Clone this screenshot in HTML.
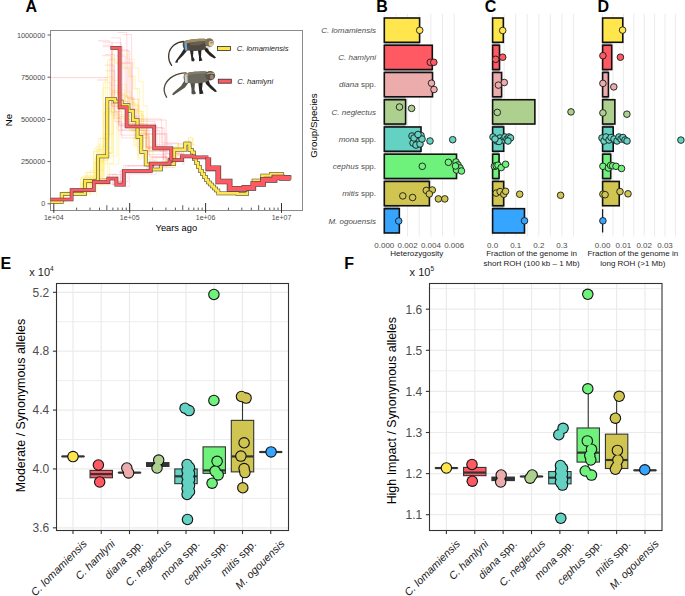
<!DOCTYPE html>
<html><head><meta charset="utf-8"><style>
html,body{margin:0;padding:0;background:#fff;}
body{width:685px;height:596px;overflow:hidden;}
svg{display:block;font-family:"Liberation Sans",sans-serif;}
</style></head><body>
<svg width="685" height="596" viewBox="0 0 685 596" font-family="Liberation Sans, sans-serif">
<rect width="685" height="596" fill="#fff"/>
<text x="25.50" y="12.00" font-size="16" text-anchor="start" fill="#000" font-weight="bold" >A</text>
<rect x="50.5" y="30.5" width="252" height="180" fill="none" stroke="#8a8a8a" stroke-width="1"/>
<line x1="47.5" x2="50.5" y1="203.80" y2="203.80" stroke="#333" stroke-width="0.8"/>
<text x="45.30" y="206.40" font-size="7.3" text-anchor="end" fill="#4d4d4d" >0</text>
<line x1="47.5" x2="50.5" y1="161.60" y2="161.60" stroke="#333" stroke-width="0.8"/>
<text x="45.30" y="164.20" font-size="7.3" text-anchor="end" fill="#4d4d4d" >250000</text>
<line x1="47.5" x2="50.5" y1="119.40" y2="119.40" stroke="#333" stroke-width="0.8"/>
<text x="45.30" y="122.00" font-size="7.3" text-anchor="end" fill="#4d4d4d" >500000</text>
<line x1="47.5" x2="50.5" y1="77.20" y2="77.20" stroke="#333" stroke-width="0.8"/>
<text x="45.30" y="79.80" font-size="7.3" text-anchor="end" fill="#4d4d4d" >750000</text>
<line x1="47.5" x2="50.5" y1="35.00" y2="35.00" stroke="#333" stroke-width="0.8"/>
<text x="45.30" y="37.60" font-size="7.3" text-anchor="end" fill="#4d4d4d" >1000000</text>
<line x1="53.80" x2="53.80" y1="203" y2="212.8" stroke="#333" stroke-width="1"/>
<line x1="76.65" x2="76.65" y1="207.6" y2="210" stroke="#333" stroke-width="0.8"/>
<line x1="90.01" x2="90.01" y1="207.6" y2="210" stroke="#333" stroke-width="0.8"/>
<line x1="99.50" x2="99.50" y1="207.6" y2="210" stroke="#333" stroke-width="0.8"/>
<line x1="106.85" x2="106.85" y1="205.2" y2="210" stroke="#333" stroke-width="0.8"/>
<line x1="112.86" x2="112.86" y1="207.6" y2="210" stroke="#333" stroke-width="0.8"/>
<line x1="117.94" x2="117.94" y1="207.6" y2="210" stroke="#333" stroke-width="0.8"/>
<line x1="122.34" x2="122.34" y1="207.6" y2="210" stroke="#333" stroke-width="0.8"/>
<line x1="126.23" x2="126.23" y1="207.6" y2="210" stroke="#333" stroke-width="0.8"/>
<line x1="129.70" x2="129.70" y1="203" y2="212.8" stroke="#333" stroke-width="1"/>
<line x1="152.55" x2="152.55" y1="207.6" y2="210" stroke="#333" stroke-width="0.8"/>
<line x1="165.91" x2="165.91" y1="207.6" y2="210" stroke="#333" stroke-width="0.8"/>
<line x1="175.40" x2="175.40" y1="207.6" y2="210" stroke="#333" stroke-width="0.8"/>
<line x1="182.75" x2="182.75" y1="205.2" y2="210" stroke="#333" stroke-width="0.8"/>
<line x1="188.76" x2="188.76" y1="207.6" y2="210" stroke="#333" stroke-width="0.8"/>
<line x1="193.84" x2="193.84" y1="207.6" y2="210" stroke="#333" stroke-width="0.8"/>
<line x1="198.24" x2="198.24" y1="207.6" y2="210" stroke="#333" stroke-width="0.8"/>
<line x1="202.13" x2="202.13" y1="207.6" y2="210" stroke="#333" stroke-width="0.8"/>
<line x1="205.60" x2="205.60" y1="203" y2="212.8" stroke="#333" stroke-width="1"/>
<line x1="228.45" x2="228.45" y1="207.6" y2="210" stroke="#333" stroke-width="0.8"/>
<line x1="241.81" x2="241.81" y1="207.6" y2="210" stroke="#333" stroke-width="0.8"/>
<line x1="251.30" x2="251.30" y1="207.6" y2="210" stroke="#333" stroke-width="0.8"/>
<line x1="258.65" x2="258.65" y1="205.2" y2="210" stroke="#333" stroke-width="0.8"/>
<line x1="264.66" x2="264.66" y1="207.6" y2="210" stroke="#333" stroke-width="0.8"/>
<line x1="269.74" x2="269.74" y1="207.6" y2="210" stroke="#333" stroke-width="0.8"/>
<line x1="274.14" x2="274.14" y1="207.6" y2="210" stroke="#333" stroke-width="0.8"/>
<line x1="278.03" x2="278.03" y1="207.6" y2="210" stroke="#333" stroke-width="0.8"/>
<line x1="281.50" x2="281.50" y1="203" y2="212.8" stroke="#333" stroke-width="1"/>
<text x="53.80" y="220.20" font-size="7" text-anchor="middle" fill="#4d4d4d" >1e+04</text>
<text x="129.70" y="220.20" font-size="7" text-anchor="middle" fill="#4d4d4d" >1e+05</text>
<text x="205.60" y="220.20" font-size="7" text-anchor="middle" fill="#4d4d4d" >1e+06</text>
<text x="281.50" y="220.20" font-size="7" text-anchor="middle" fill="#4d4d4d" >1e+07</text>
<text x="176.30" y="230.70" font-size="9.3" text-anchor="middle" fill="#000" >Years ago</text>
<text transform="translate(12.2,120) rotate(-90)" font-size="9.6" text-anchor="middle" fill="#000">Ne</text>
<g fill="none" stroke-width="0.9" stroke-linejoin="miter">
<path d="M85.5,194.9 L85.5,183.2 L98.5,183.2 L98.5,160.8 L107.8,160.8 L107.8,108.7 L115.3,108.7 L115.3,111.2 L122.1,111.2 L122.1,114.4 L128.9,114.4 L128.9,120.0 L133.5,120.0 L133.5,128.1 L138.0,128.1 L138.0,143.1 L141.8,143.1 L141.8,156.9 L146.2,156.9" stroke="#FFE64C" stroke-opacity="0.4"/>
<path d="M91.1,195.5 L91.1,184.4 L104.1,184.4 L104.1,163.4 L113.4,163.4 L113.4,114.5 L120.9,114.5 L120.9,116.8 L127.7,116.8 L127.7,119.9 L134.5,119.9 L134.5,125.1 L139.1,125.1 L139.1,132.7 L143.6,132.7 L143.6,146.8 L147.4,146.8 L147.4,159.8 L151.8,159.8" stroke="#FFE64C" stroke-opacity="0.4"/>
<path d="M89.1,193.4 L89.1,179.7 L102.1,179.7 L102.1,153.6 L111.4,153.6 L111.4,92.9 L118.9,92.9 L118.9,95.8 L125.7,95.8 L125.7,99.6 L132.5,99.6 L132.5,106.0 L137.1,106.0 L137.1,115.5 L141.6,115.5 L141.6,133.0 L145.4,133.0 L145.4,149.1 L149.8,149.1" stroke="#FFE64C" stroke-opacity="0.4"/>
<path d="M81.0,192.4 L81.0,177.4 L94.0,177.4 L94.0,148.9 L103.3,148.9 L103.3,82.5 L110.8,82.5 L110.8,85.6 L117.6,85.6 L117.6,89.8 L124.4,89.8 L124.4,96.8 L129.0,96.8 L129.0,107.2 L133.5,107.2 L133.5,126.4 L137.3,126.4 L137.3,143.9 L141.7,143.9" stroke="#FFE64C" stroke-opacity="0.4"/>
<path d="M80.6,193.0 L80.6,178.6 L93.6,178.6 L93.6,151.4 L102.9,151.4 L102.9,87.9 L110.4,87.9 L110.4,90.9 L117.2,90.9 L117.2,94.9 L124.0,94.9 L124.0,101.6 L128.6,101.6 L128.6,111.5 L133.1,111.5 L133.1,129.8 L136.9,129.8 L136.9,146.6 L141.3,146.6" stroke="#FFE64C" stroke-opacity="0.4"/>
<path d="M81.2,195.4 L81.2,184.1 L94.2,184.1 L94.2,162.8 L103.5,162.8 L103.5,113.2 L111.0,113.2 L111.0,115.5 L117.8,115.5 L117.8,118.6 L124.6,118.6 L124.6,123.9 L129.2,123.9 L129.2,131.6 L133.7,131.6 L133.7,146.0 L137.5,146.0 L137.5,159.1 L141.9,159.1" stroke="#FFE64C" stroke-opacity="0.4"/>
<path d="M87.2,190.2 L87.2,172.3 L100.2,172.3 L100.2,138.2 L109.5,138.2 L109.5,59.0 L117.0,59.0 L117.0,62.7 L123.8,62.7 L123.8,67.6 L130.6,67.6 L130.6,76.0 L135.2,76.0 L135.2,88.5 L139.7,88.5 L139.7,111.3 L143.5,111.3 L143.5,132.3 L147.9,132.3" stroke="#FFE64C" stroke-opacity="0.4"/>
<path d="M82.1,194.4 L82.1,182.0 L95.1,182.0 L95.1,158.4 L104.4,158.4 L104.4,103.4 L111.9,103.4 L111.9,106.0 L118.7,106.0 L118.7,109.4 L125.5,109.4 L125.5,115.3 L130.1,115.3 L130.1,123.9 L134.6,123.9 L134.6,139.7 L138.4,139.7 L138.4,154.3 L142.8,154.3" stroke="#FFE64C" stroke-opacity="0.4"/>
<path d="M90.7,189.4 L90.7,170.3 L103.7,170.3 L103.7,134.2 L113.0,134.2 L113.0,50.1 L120.5,50.1 L120.5,54.0 L127.3,54.0 L127.3,59.3 L134.1,59.3 L134.1,68.2 L138.7,68.2 L138.7,81.4 L143.2,81.4 L143.2,105.7 L147.0,105.7 L147.0,127.9 L151.4,127.9" stroke="#FFE64C" stroke-opacity="0.4"/>
<path d="M89.8,193.2 L89.8,179.2 L102.8,179.2 L102.8,152.6 L112.1,152.6 L112.1,90.6 L119.6,90.6 L119.6,93.5 L126.4,93.5 L126.4,97.4 L133.2,97.4 L133.2,104.0 L137.8,104.0 L137.8,113.7 L142.3,113.7 L142.3,131.6 L146.1,131.6 L146.1,148.0 L150.5,148.0" stroke="#FFE64C" stroke-opacity="0.4"/>
<path d="M96.6,195.7 L96.6,184.9 L109.6,184.9 L109.6,164.3 L118.9,164.3 L118.9,116.4 L126.4,116.4 L126.4,118.7 L133.2,118.7 L133.2,121.7 L140.0,121.7 L140.0,126.7 L144.6,126.7 L144.6,134.2 L149.1,134.2 L149.1,148.0 L152.9,148.0 L152.9,160.7 L157.3,160.7" stroke="#FFE64C" stroke-opacity="0.4"/>
<path d="M94.6,194.0 L94.6,180.9 L107.6,180.9 L107.6,156.2 L116.9,156.2 L116.9,98.5 L124.4,98.5 L124.4,101.2 L131.2,101.2 L131.2,104.8 L138.0,104.8 L138.0,110.9 L142.6,110.9 L142.6,120.0 L147.1,120.0 L147.1,136.6 L150.9,136.6 L150.9,151.9 L155.3,151.9" stroke="#FFE64C" stroke-opacity="0.4"/>
<path d="M82.5,195.2 L82.5,183.7 L95.5,183.7 L95.5,161.9 L104.8,161.9 L104.8,111.2 L112.3,111.2 L112.3,113.5 L119.1,113.5 L119.1,116.7 L125.9,116.7 L125.9,122.1 L130.5,122.1 L130.5,130.1 L135.0,130.1 L135.0,144.7 L138.8,144.7 L138.8,158.1 L143.2,158.1" stroke="#FFE64C" stroke-opacity="0.4"/>
<path d="M85.2,190.3 L85.2,172.5 L98.2,172.5 L98.2,138.6 L107.5,138.6 L107.5,59.7 L115.0,59.7 L115.0,63.4 L121.8,63.4 L121.8,68.4 L128.6,68.4 L128.6,76.7 L133.2,76.7 L133.2,89.1 L137.7,89.1 L137.7,111.8 L141.5,111.8 L141.5,132.7 L145.9,132.7" stroke="#FFE64C" stroke-opacity="0.4"/>
<path d="M83.1,191.9 L83.1,176.2 L96.1,176.2 L96.1,146.4 L105.4,146.4 L105.4,77.0 L112.9,77.0 L112.9,80.3 L119.7,80.3 L119.7,84.6 L126.5,84.6 L126.5,92.0 L131.1,92.0 L131.1,102.8 L135.6,102.8 L135.6,122.9 L139.4,122.9 L139.4,141.2 L143.8,141.2" stroke="#FFE64C" stroke-opacity="0.4"/>
<path d="M90.9,193.4 L90.9,179.6 L103.9,179.6 L103.9,153.4 L113.2,153.4 L113.2,92.4 L120.7,92.4 L120.7,95.3 L127.5,95.3 L127.5,99.1 L134.3,99.1 L134.3,105.6 L138.9,105.6 L138.9,115.1 L143.4,115.1 L143.4,132.7 L147.2,132.7 L147.2,148.8 L151.6,148.8" stroke="#FFE64C" stroke-opacity="0.4"/>
<path d="M51.9,202.1 L63.1,202.1 L63.1,194.7 L86.4,194.7 L86.4,182.7 L99.4,182.7 L99.4,159.9 L108.7,159.9" stroke="#FFE64C" stroke-opacity="0.3"/>
<path d="M48.0,202.0 L59.2,202.0 L59.2,194.2 L82.5,194.2 L82.5,181.4 L95.5,181.4 L95.5,157.1 L104.8,157.1" stroke="#FFE64C" stroke-opacity="0.3"/>
<path d="M52.9,201.9 L64.1,201.9 L64.1,193.3 L87.4,193.3 L87.4,179.4 L100.4,179.4 L100.4,152.9 L109.7,152.9" stroke="#FFE64C" stroke-opacity="0.3"/>
<path d="M50.0,201.7 L61.2,201.7 L61.2,192.7 L84.5,192.7 L84.5,177.9 L97.5,177.9 L97.5,149.9 L106.8,149.9" stroke="#FFE64C" stroke-opacity="0.3"/>
<path d="M51.1,202.0 L62.3,202.0 L62.3,193.8 L85.6,193.8 L85.6,180.5 L98.6,180.5 L98.6,155.4 L107.9,155.4" stroke="#FFE64C" stroke-opacity="0.3"/>
<path d="M53.9,201.6 L65.1,201.6 L65.1,192.2 L88.4,192.2 L88.4,176.9 L101.4,176.9 L101.4,147.7 L110.7,147.7" stroke="#FFE64C" stroke-opacity="0.3"/>
<path d="M49.5,201.7 L60.7,201.7 L60.7,192.7 L84.0,192.7 L84.0,178.0 L97.0,178.0 L97.0,150.1 L106.3,150.1" stroke="#FFE64C" stroke-opacity="0.3"/>
<path d="M51.7,201.5 L62.9,201.5 L62.9,191.5 L86.2,191.5 L86.2,175.2 L99.2,175.2 L99.2,144.4 L108.5,144.4" stroke="#FFE64C" stroke-opacity="0.3"/>
<path d="M53.3,202.0 L64.5,202.0 L64.5,193.8 L87.8,193.8 L87.8,180.7 L100.8,180.7 L100.8,155.6 L110.1,155.6" stroke="#FFE64C" stroke-opacity="0.3"/>
<path d="M55.3,202.1 L66.5,202.1 L66.5,194.5 L89.8,194.5 L89.8,182.2 L102.8,182.2 L102.8,158.8 L112.1,158.8" stroke="#FFE64C" stroke-opacity="0.3"/>
<path d="M111.9,42.8 L121.1,42.8 L121.1,104.3 L128.1,104.3 L128.1,124.0 L155.7,124.0 L155.7,146.6 L172.8,146.6 L172.8,159.1" stroke="#FF5A64" stroke-opacity="0.24"/>
<path d="M105.2,54.5 L114.4,54.5 L114.4,111.6 L121.4,111.6 L121.4,129.8 L149.0,129.8 L149.0,150.8 L166.1,150.8 L166.1,162.4" stroke="#FF5A64" stroke-opacity="0.24"/>
<path d="M102.4,46.7 L111.6,46.7 L111.6,106.7 L118.6,106.7 L118.6,125.9 L146.2,125.9 L146.2,148.0 L163.3,148.0 L163.3,160.2" stroke="#FF5A64" stroke-opacity="0.24"/>
<path d="M120.5,50.9 L129.7,50.9 L129.7,109.3 L136.7,109.3 L136.7,128.0 L164.3,128.0 L164.3,149.5 L181.4,149.5 L181.4,161.4" stroke="#FF5A64" stroke-opacity="0.24"/>
<path d="M123.3,62.2 L132.5,62.2 L132.5,116.3 L139.5,116.3 L139.5,133.6 L167.1,133.6 L167.1,153.5 L184.2,153.5 L184.2,164.5" stroke="#FF5A64" stroke-opacity="0.24"/>
<path d="M118.8,49.9 L128.0,49.9 L128.0,108.7 L135.0,108.7 L135.0,127.6 L162.6,127.6 L162.6,149.2 L179.7,149.2 L179.7,161.1" stroke="#FF5A64" stroke-opacity="0.24"/>
<path d="M115.9,56.0 L125.1,56.0 L125.1,112.4 L132.1,112.4 L132.1,130.6 L159.7,130.6 L159.7,151.3 L176.8,151.3 L176.8,162.8" stroke="#FF5A64" stroke-opacity="0.24"/>
<path d="M122.4,34.6 L131.6,34.6 L131.6,99.2 L138.6,99.2 L138.6,120.0 L166.2,120.0 L166.2,143.7 L183.3,143.7 L183.3,156.8" stroke="#FF5A64" stroke-opacity="0.24"/>
<path d="M113.3,46.9 L122.5,46.9 L122.5,106.8 L129.5,106.8 L129.5,126.0 L157.1,126.0 L157.1,148.1 L174.2,148.1 L174.2,160.2" stroke="#FF5A64" stroke-opacity="0.24"/>
<path d="M102.9,45.2 L112.1,45.2 L112.1,105.8 L119.1,105.8 L119.1,125.2 L146.7,125.2 L146.7,147.5 L163.8,147.5 L163.8,159.8" stroke="#FF5A64" stroke-opacity="0.24"/>
<path d="M117.6,32.5 L126.8,32.5 L126.8,97.9 L133.8,97.9 L133.8,118.9 L161.4,118.9 L161.4,142.9 L178.5,142.9 L178.5,156.2" stroke="#FF5A64" stroke-opacity="0.24"/>
<path d="M121.9,63.5 L131.1,63.5 L131.1,117.1 L138.1,117.1 L138.1,134.3 L165.7,134.3 L165.7,154.0 L182.8,154.0 L182.8,164.9" stroke="#FF5A64" stroke-opacity="0.24"/>
<path d="M111.0,46.7 L120.2,46.7 L120.2,106.7 L127.2,106.7 L127.2,125.9 L154.8,125.9 L154.8,148.0 L171.9,148.0 L171.9,160.2" stroke="#FF5A64" stroke-opacity="0.24"/>
<path d="M102.0,55.7 L111.2,55.7 L111.2,112.3 L118.2,112.3 L118.2,130.4 L145.8,130.4 L145.8,151.2 L162.9,151.2 L162.9,162.7" stroke="#FF5A64" stroke-opacity="0.24"/>
<path d="M105.6,70.8 L114.8,70.8 L114.8,121.6 L121.8,121.6 L121.8,137.9 L149.4,137.9 L149.4,156.6 L166.5,156.6 L166.5,166.9" stroke="#FF5A64" stroke-opacity="0.24"/>
<path d="M102.9,42.3 L112.1,42.3 L112.1,104.0 L119.1,104.0 L119.1,123.8 L146.7,123.8 L146.7,146.4 L163.8,146.4 L163.8,159.0" stroke="#FF5A64" stroke-opacity="0.24"/>
<path d="M104.6,65.1 L113.8,65.1 L113.8,118.1 L120.8,118.1 L120.8,135.1 L148.4,135.1 L148.4,154.6 L165.5,154.6 L165.5,165.3" stroke="#FF5A64" stroke-opacity="0.24"/>
<path d="M111.2,37.8 L120.4,37.8 L120.4,101.2 L127.4,101.2 L127.4,121.5 L155.0,121.5 L155.0,144.8 L172.1,144.8 L172.1,157.7" stroke="#FF5A64" stroke-opacity="0.24"/>
<path d="M90.6,181.9 L105.2,181.9 L105.2,178.3 L113.2,178.3 L113.2,184.6 L120.6,184.6 L120.6,170.8 L147.5,170.8 L147.5,163.4 L166.3,163.4" stroke="#FF5A64" stroke-opacity="0.18"/>
<path d="M95.3,178.6 L109.9,178.6 L109.9,174.4 L117.9,174.4 L117.9,181.6 L125.3,181.6 L125.3,165.7 L152.2,165.7 L152.2,157.3 L171.0,157.3" stroke="#FF5A64" stroke-opacity="0.18"/>
<path d="M98.0,178.8 L112.6,178.8 L112.6,174.6 L120.6,174.6 L120.6,181.8 L128.0,181.8 L128.0,166.0 L154.9,166.0 L154.9,157.6 L173.7,157.6" stroke="#FF5A64" stroke-opacity="0.18"/>
<path d="M92.6,182.2 L107.2,182.2 L107.2,178.6 L115.2,178.6 L115.2,184.8 L122.6,184.8 L122.6,171.2 L149.5,171.2 L149.5,163.9 L168.3,163.9" stroke="#FF5A64" stroke-opacity="0.18"/>
<path d="M93.4,178.6 L108.0,178.6 L108.0,174.4 L116.0,174.4 L116.0,181.6 L123.4,181.6 L123.4,165.7 L150.3,165.7 L150.3,157.3 L169.1,157.3" stroke="#FF5A64" stroke-opacity="0.18"/>
<path d="M99.4,184.2 L114.0,184.2 L114.0,181.0 L122.0,181.0 L122.0,186.6 L129.4,186.6 L129.4,174.2 L156.3,174.2 L156.3,167.6 L175.1,167.6" stroke="#FF5A64" stroke-opacity="0.18"/>
<path d="M91.6,183.6 L106.2,183.6 L106.2,180.3 L114.2,180.3 L114.2,186.0 L121.6,186.0 L121.6,173.3 L148.5,173.3 L148.5,166.5 L167.3,166.5" stroke="#FF5A64" stroke-opacity="0.18"/>
<path d="M92.1,181.7 L106.7,181.7 L106.7,178.0 L114.7,178.0 L114.7,184.3 L122.1,184.3 L122.1,170.3 L149.0,170.3 L149.0,162.9 L167.8,162.9" stroke="#FF5A64" stroke-opacity="0.18"/>
<path d="M95.7,183.4 L110.3,183.4 L110.3,180.0 L118.3,180.0 L118.3,185.8 L125.7,185.8 L125.7,172.9 L152.6,172.9 L152.6,166.0 L171.4,166.0" stroke="#FF5A64" stroke-opacity="0.18"/>
<path d="M89.8,182.2 L104.4,182.2 L104.4,178.6 L112.4,178.6 L112.4,184.8 L119.8,184.8 L119.8,171.1 L146.7,171.1 L146.7,163.8 L165.5,163.8" stroke="#FF5A64" stroke-opacity="0.18"/>
<path d="M160.0,162.3 L173.2,162.3 L173.2,147.4 L184.3,147.4 L184.3,141.0 L188.5,141.0 L188.5,147.8 L191.0,147.8" stroke="#FFE64C" stroke-opacity="0.3"/>
<path d="M164.6,161.1 L177.8,161.1 L177.8,145.8 L188.9,145.8 L188.9,139.1 L193.1,139.1 L193.1,146.1 L195.6,146.1" stroke="#FFE64C" stroke-opacity="0.3"/>
<path d="M161.1,161.8 L174.3,161.8 L174.3,146.7 L185.4,146.7 L185.4,140.2 L189.6,140.2 L189.6,147.1 L192.1,147.1" stroke="#FFE64C" stroke-opacity="0.3"/>
<path d="M162.4,167.5 L175.6,167.5 L175.6,154.4 L186.7,154.4 L186.7,148.7 L190.9,148.7 L190.9,154.7 L193.4,154.7" stroke="#FFE64C" stroke-opacity="0.3"/>
<path d="M164.2,160.2 L177.4,160.2 L177.4,144.5 L188.5,144.5 L188.5,137.8 L192.7,137.8 L192.7,144.9 L195.2,144.9" stroke="#FFE64C" stroke-opacity="0.3"/>
<path d="M164.0,160.0 L177.2,160.0 L177.2,144.3 L188.3,144.3 L188.3,137.5 L192.5,137.5 L192.5,144.6 L195.0,144.6" stroke="#FFE64C" stroke-opacity="0.3"/>
<path d="M50.5,77.6 L108,77.6 M98,40.9 L110,40.9 M97,80 L108,80" stroke="#FF5A64" stroke-opacity="0.3"/>
</g>
<path d="M50.5,202.0 L61.7,202.0 L61.7,194.0 L85.0,194.0 L85.0,181.0 L98.0,181.0 L98.0,156.3 L107.3,156.3 L107.3,98.8 L114.8,98.8 L114.8,101.5 L121.6,101.5 L121.6,105.1 L128.4,105.1 L128.4,111.2 L133.0,111.2 L133.0,120.2 L137.5,120.2 L137.5,136.8 L141.3,136.8 L141.3,152.0 L145.7,152.0 L145.7,164.5 L152.0,164.5 L152.0,169.5 L161.0,169.5 L161.0,164.0 L174.2,164.0 L174.2,149.7 L185.3,149.7 L185.3,143.5 L189.5,143.5 L189.5,150.0 L192.0,150.0 L192.0,152.5 L194.0,152.5 L194.0,159.0 L196.0,159.0 L196.0,163.0 L198.0,163.0 L198.0,167.0 L200.0,167.0 L200.0,171.0 L202.0,171.0 L202.0,174.0 L204.0,174.0 L204.0,177.0 L206.0,177.0 L206.0,180.0 L208.0,180.0 L208.0,182.5 L210.0,182.5 L210.0,184.5 L212.0,184.5 L212.0,186.5 L214.0,186.5 L214.0,188.5 L216.0,188.5 L216.0,190.5 L218.3,190.5 L218.3,193.3 L237.5,193.3 L237.5,194.0 L247.0,194.0 L247.0,188.0 L253.6,188.0 L253.6,180.5 L262.3,180.5 L262.3,175.5 L271.0,175.5 L271.0,174.0 L282.2,174.0 L282.2,177.0 L289.5,177.0 L289.5,179.5" fill="none" stroke="#3a3a3a" stroke-width="3.7" stroke-linejoin="miter" stroke-linecap="butt"/>
<path d="M50.5,202.0 L61.7,202.0 L61.7,194.0 L85.0,194.0 L85.0,181.0 L98.0,181.0 L98.0,156.3 L107.3,156.3 L107.3,98.8 L114.8,98.8 L114.8,101.5 L121.6,101.5 L121.6,105.1 L128.4,105.1 L128.4,111.2 L133.0,111.2 L133.0,120.2 L137.5,120.2 L137.5,136.8 L141.3,136.8 L141.3,152.0 L145.7,152.0 L145.7,164.5 L152.0,164.5 L152.0,169.5 L161.0,169.5 L161.0,164.0 L174.2,164.0 L174.2,149.7 L185.3,149.7 L185.3,143.5 L189.5,143.5 L189.5,150.0 L192.0,150.0 L192.0,152.5 L194.0,152.5 L194.0,159.0 L196.0,159.0 L196.0,163.0 L198.0,163.0 L198.0,167.0 L200.0,167.0 L200.0,171.0 L202.0,171.0 L202.0,174.0 L204.0,174.0 L204.0,177.0 L206.0,177.0 L206.0,180.0 L208.0,180.0 L208.0,182.5 L210.0,182.5 L210.0,184.5 L212.0,184.5 L212.0,186.5 L214.0,186.5 L214.0,188.5 L216.0,188.5 L216.0,190.5 L218.3,190.5 L218.3,193.3 L237.5,193.3 L237.5,194.0 L247.0,194.0 L247.0,188.0 L253.6,188.0 L253.6,180.5 L262.3,180.5 L262.3,175.5 L271.0,175.5 L271.0,174.0 L282.2,174.0 L282.2,177.0 L289.5,177.0 L289.5,179.5" fill="none" stroke="#FFE64C" stroke-width="2.7" stroke-linejoin="miter" stroke-linecap="butt"/>
<path d="M50.5,199.5 L71.6,199.5 L71.6,190.1 L93.8,190.1 L93.8,182.1 L108.4,182.1 L108.4,178.5 L116.4,178.5 L116.4,184.7 L123.8,184.7 L123.8,171.0 L150.7,171.0 L150.7,163.7 L169.5,163.7 L169.5,160.2 L182.0,160.2 L182.0,156.3 L194.0,156.3 L194.0,157.4 L208.3,157.4" fill="none" stroke="#3a3a3a" stroke-width="3.7" stroke-linejoin="miter" stroke-linecap="butt"/>
<path d="M50.5,199.5 L71.6,199.5 L71.6,190.1 L93.8,190.1 L93.8,182.1 L108.4,182.1 L108.4,178.5 L116.4,178.5 L116.4,184.7 L123.8,184.7 L123.8,171.0 L150.7,171.0 L150.7,163.7 L169.5,163.7 L169.5,160.2 L182.0,160.2 L182.0,156.3 L194.0,156.3 L194.0,157.4 L208.3,157.4" fill="none" stroke="#FF5A64" stroke-width="2.7" stroke-linejoin="miter" stroke-linecap="butt"/>
<path d="M110.4,47.8 L119.6,47.8 L119.6,107.4 L126.6,107.4 L126.6,126.5 L154.2,126.5 L154.2,148.4 L171.3,148.4 L171.3,160.5" fill="none" stroke="#3a3a3a" stroke-width="3.7" stroke-linejoin="miter" stroke-linecap="butt"/>
<path d="M110.4,47.8 L119.6,47.8 L119.6,107.4 L126.6,107.4 L126.6,126.5 L154.2,126.5 L154.2,148.4 L171.3,148.4 L171.3,160.5" fill="none" stroke="#FF5A64" stroke-width="2.7" stroke-linejoin="miter" stroke-linecap="butt"/>
<path d="M208.3,157.4 L208.3,168.3 L218.3,168.3 L218.3,181.5 L229.6,181.5 L229.6,188.8 L244.5,188.8 L244.5,187.8 L253.3,187.8 L253.3,184.0 L263.0,184.0 L263.0,179.8 L274.5,179.8 L274.5,177.5 L282.0,177.5 L282.0,178.0 L290.5,178.0" fill="none" stroke="#3a3a3a" stroke-width="5.7" stroke-linejoin="miter" stroke-linecap="butt"/>
<path d="M208.3,157.4 L208.3,168.3 L218.3,168.3 L218.3,181.5 L229.6,181.5 L229.6,188.8 L244.5,188.8 L244.5,187.8 L253.3,187.8 L253.3,184.0 L263.0,184.0 L263.0,179.8 L274.5,179.8 L274.5,177.5 L282.0,177.5 L282.0,178.0 L290.5,178.0" fill="none" stroke="#FF5A64" stroke-width="4.4" stroke-linejoin="miter" stroke-linecap="butt"/>
<rect x="217.5" y="46.5" width="13" height="4" fill="#FFE64C" stroke="#2b2b2b" stroke-width="0.8"/>
<rect x="218.3" y="79.2" width="13" height="4" fill="#FF5A64" stroke="#2b2b2b" stroke-width="0.8"/>
<text x="236.70" y="51.40" font-size="7.6" text-anchor="start" fill="#1a1a1a" font-style="italic" >C. lomamiensis</text>
<text x="237.30" y="84.00" font-size="7.6" text-anchor="start" fill="#1a1a1a" font-style="italic" >C. hamlyni</text>
<path d="M183.5,41.5 C176,42 170,47 168.8,54 C168.2,58.5 169.5,62.5 171.6,65.4" fill="none" stroke="#3b3127" stroke-width="1.3" stroke-linecap="round"/>
<path d="M185,47 L188.5,49 L183.5,55 L178,60.5 L177.6,62.8 L175,62.6 L176.2,60.2 L181,53.5 Z" fill="#2c2a27"/>
<path d="M189.5,48 L193.5,49.5 L193,56.5 L194.8,60 L193.5,61.4 L191.5,61 L191,56 Z" fill="#2a2826"/>
<path d="M197.5,48 L201.5,48 L201,57 L202.5,60.6 L199,61.3 L199,57 Z" fill="#262422"/>
<path d="M203,46 L207,46 L209,51 L214,55.5 L216,57.5 L214.5,58.5 L210,56 L205,51 Z" fill="#262422"/>
<path d="M183,42 C186,39.5 195,39 203,38.8 C207,38.6 209,41 209,44 C209,48 204,50.5 198,50.8 C192,51.2 186,51 184,49 C182.5,47 182.5,44 183,42 Z" fill="#4e4a42"/>
<path d="M184,41.5 C189,39.3 197,38.8 204,38.8 C206,39 207,40 207.5,41.5 C200,41 192,42 185,44 Z" fill="#a08c66"/>
<path d="M190,42.5 C195,41.5 201,41.5 205,42 C203,45 196,46 190,45 Z" fill="#6d6452" opacity="0.8"/>
<path d="M184.3,43 L186.6,42.6 L187.4,50.5 L185.3,50.8 Z" fill="#6fa6d6"/>
<ellipse cx="209.3" cy="42.6" rx="4.5" ry="4.4" fill="#7c7058"/>
<ellipse cx="211.2" cy="43.6" rx="2.5" ry="2.9" fill="#d6c4a0"/>
<ellipse cx="211.6" cy="42.6" rx="1.3" ry="0.9" fill="#a08870"/>
<path d="M205.5,46.2 C207.5,45.8 209.5,46.8 210,48.3 C207.5,48.8 206,48.2 205.5,46.2 Z" fill="#e8e0d0"/>
<path d="M186,72.8 C176,73 168,78 165,85 C163.3,89.5 164.5,94 166.6,97.2" fill="none" stroke="#4d4838" stroke-width="1.3" stroke-linecap="round"/>
<path d="M185.5,79 L190,80.5 L185,87.5 L176,93.5 L173.5,95.3 L172,94.3 L174,92 L181,86 Z" fill="#5b594e"/>
<path d="M190,81 L195,82 L194.5,90 L196,93.5 L193.5,94.4 L191.5,93.8 L191.5,89 Z" fill="#52504a"/>
<path d="M198,80 L203,80 L202,89 L203.5,93.6 L199.5,94.2 L199,89 Z" fill="#252523"/>
<path d="M204,78.5 L208,78.5 L210,84 L215.5,89.5 L217,91.6 L215,92 L211,89 L206,84 Z" fill="#252523"/>
<path d="M184,74.5 C187,72 196,71.3 204,71.3 C208.5,71.3 210.5,74 210.5,77 C210.5,81 205,83 198,83.3 C192,83.6 186.5,83.2 184.6,81.2 C183.4,79 183.4,76.5 184,74.5 Z" fill="#6c6a5c"/>
<path d="M185,74 C190,72 198,71.4 205,71.5 L206,73.6 C198,73.5 191,74.2 185.5,76 Z" fill="#817e6e"/>
<path d="M184.5,75 L187.3,74.4 L187.8,82.8 L185.2,83 Z" fill="#c4d2d8"/>
<path d="M185,74.6 L187.5,73.6 L188,76 L185.5,76.6 Z" fill="#e0b070"/>
<ellipse cx="210.2" cy="75.8" rx="5" ry="4.7" fill="#55534a"/>
<path d="M206.5,73.6 C208,72.2 212.5,72 214.6,73.6 L214.6,74.3 C212,73.5 208.5,73.6 206.5,74.4 Z" fill="#b0a470"/>
<ellipse cx="211.8" cy="77" rx="1.9" ry="2.3" fill="#a88070"/>
<line x1="384.30" x2="384.30" y1="14" y2="236.5" stroke="#ebebeb" stroke-width="1"/>
<line x1="395.95" x2="395.95" y1="14" y2="236.5" stroke="#ebebeb" stroke-width="1"/>
<line x1="407.60" x2="407.60" y1="14" y2="236.5" stroke="#ebebeb" stroke-width="1"/>
<line x1="419.25" x2="419.25" y1="14" y2="236.5" stroke="#ebebeb" stroke-width="1"/>
<line x1="430.90" x2="430.90" y1="14" y2="236.5" stroke="#ebebeb" stroke-width="1"/>
<line x1="442.55" x2="442.55" y1="14" y2="236.5" stroke="#ebebeb" stroke-width="1"/>
<line x1="454.20" x2="454.20" y1="14" y2="236.5" stroke="#ebebeb" stroke-width="1"/>
<rect x="384.30" y="42.30" width="35.30" height="2.94" fill="#b4b4b4"/>
<rect x="384.30" y="69.54" width="48.00" height="2.94" fill="#b4b4b4"/>
<rect x="384.30" y="96.78" width="21.32" height="2.94" fill="#b4b4b4"/>
<rect x="384.30" y="124.02" width="21.32" height="2.94" fill="#b4b4b4"/>
<rect x="384.30" y="151.26" width="36.70" height="2.94" fill="#b4b4b4"/>
<rect x="384.30" y="178.50" width="45.09" height="2.94" fill="#b4b4b4"/>
<rect x="384.30" y="205.74" width="15.03" height="2.94" fill="#b4b4b4"/>
<rect x="384.30" y="18.00" width="35.30" height="24.3" fill="#FFE64C" stroke="#111" stroke-width="1.6"/>
<rect x="384.30" y="45.24" width="48.00" height="24.3" fill="#FF5A64" stroke="#111" stroke-width="1.6"/>
<rect x="384.30" y="72.48" width="48.23" height="24.3" fill="#ECACAC" stroke="#111" stroke-width="1.6"/>
<rect x="384.30" y="99.72" width="21.32" height="24.3" fill="#ADD08F" stroke="#111" stroke-width="1.6"/>
<rect x="384.30" y="126.96" width="36.70" height="24.3" fill="#63D2C2" stroke="#111" stroke-width="1.6"/>
<rect x="384.30" y="154.20" width="72.23" height="24.3" fill="#6EF27B" stroke="#111" stroke-width="1.6"/>
<rect x="384.30" y="181.44" width="45.09" height="24.3" fill="#CFC550" stroke="#111" stroke-width="1.6"/>
<rect x="384.30" y="208.68" width="15.03" height="24.3" fill="#35A5FF" stroke="#111" stroke-width="1.6"/>
<circle cx="419.70" cy="30.30" r="3.3" fill="#FFE64C" stroke="#1a1a1a" stroke-width="0.9"/>
<circle cx="430.30" cy="62.30" r="3.3" fill="#FF5A64" stroke="#1a1a1a" stroke-width="0.9"/>
<circle cx="433.80" cy="62.30" r="3.3" fill="#FF5A64" stroke="#1a1a1a" stroke-width="0.9"/>
<circle cx="431.50" cy="83.20" r="3.3" fill="#ECACAC" stroke="#1a1a1a" stroke-width="0.9"/>
<circle cx="434.00" cy="89.50" r="3.3" fill="#ECACAC" stroke="#1a1a1a" stroke-width="0.9"/>
<circle cx="399.50" cy="107.00" r="3.3" fill="#ADD08F" stroke="#1a1a1a" stroke-width="0.9"/>
<circle cx="411.60" cy="108.40" r="3.3" fill="#ADD08F" stroke="#1a1a1a" stroke-width="0.9"/>
<circle cx="412.00" cy="136.00" r="3.3" fill="#63D2C2" stroke="#1a1a1a" stroke-width="0.9"/>
<circle cx="415.00" cy="140.00" r="3.3" fill="#63D2C2" stroke="#1a1a1a" stroke-width="0.9"/>
<circle cx="413.00" cy="143.00" r="3.3" fill="#63D2C2" stroke="#1a1a1a" stroke-width="0.9"/>
<circle cx="417.00" cy="137.00" r="3.3" fill="#63D2C2" stroke="#1a1a1a" stroke-width="0.9"/>
<circle cx="419.00" cy="141.00" r="3.3" fill="#63D2C2" stroke="#1a1a1a" stroke-width="0.9"/>
<circle cx="421.00" cy="135.50" r="3.3" fill="#63D2C2" stroke="#1a1a1a" stroke-width="0.9"/>
<circle cx="416.00" cy="145.00" r="3.3" fill="#63D2C2" stroke="#1a1a1a" stroke-width="0.9"/>
<circle cx="420.00" cy="144.00" r="3.3" fill="#63D2C2" stroke="#1a1a1a" stroke-width="0.9"/>
<circle cx="422.00" cy="139.00" r="3.3" fill="#63D2C2" stroke="#1a1a1a" stroke-width="0.9"/>
<circle cx="414.00" cy="138.00" r="3.3" fill="#63D2C2" stroke="#1a1a1a" stroke-width="0.9"/>
<circle cx="418.00" cy="134.50" r="3.3" fill="#63D2C2" stroke="#1a1a1a" stroke-width="0.9"/>
<circle cx="430.00" cy="141.00" r="3.3" fill="#63D2C2" stroke="#1a1a1a" stroke-width="0.9"/>
<circle cx="452.70" cy="139.70" r="3.3" fill="#63D2C2" stroke="#1a1a1a" stroke-width="0.9"/>
<circle cx="422.30" cy="166.30" r="3.3" fill="#6EF27B" stroke="#1a1a1a" stroke-width="0.9"/>
<circle cx="448.40" cy="162.30" r="3.3" fill="#6EF27B" stroke="#1a1a1a" stroke-width="0.9"/>
<circle cx="456.00" cy="162.00" r="3.3" fill="#6EF27B" stroke="#1a1a1a" stroke-width="0.9"/>
<circle cx="458.00" cy="165.00" r="3.3" fill="#6EF27B" stroke="#1a1a1a" stroke-width="0.9"/>
<circle cx="460.00" cy="168.00" r="3.3" fill="#6EF27B" stroke="#1a1a1a" stroke-width="0.9"/>
<circle cx="456.50" cy="170.00" r="3.3" fill="#6EF27B" stroke="#1a1a1a" stroke-width="0.9"/>
<circle cx="461.50" cy="171.00" r="3.3" fill="#6EF27B" stroke="#1a1a1a" stroke-width="0.9"/>
<circle cx="455.50" cy="166.00" r="3.3" fill="#6EF27B" stroke="#1a1a1a" stroke-width="0.9"/>
<circle cx="402.80" cy="195.90" r="3.3" fill="#CFC550" stroke="#1a1a1a" stroke-width="0.9"/>
<circle cx="412.60" cy="197.50" r="3.3" fill="#CFC550" stroke="#1a1a1a" stroke-width="0.9"/>
<circle cx="426.30" cy="190.40" r="3.3" fill="#CFC550" stroke="#1a1a1a" stroke-width="0.9"/>
<circle cx="432.30" cy="190.00" r="3.3" fill="#CFC550" stroke="#1a1a1a" stroke-width="0.9"/>
<circle cx="429.30" cy="194.00" r="3.3" fill="#CFC550" stroke="#1a1a1a" stroke-width="0.9"/>
<circle cx="438.40" cy="198.90" r="3.3" fill="#CFC550" stroke="#1a1a1a" stroke-width="0.9"/>
<circle cx="444.80" cy="198.90" r="3.3" fill="#CFC550" stroke="#1a1a1a" stroke-width="0.9"/>
<circle cx="398.70" cy="221.00" r="3.3" fill="#35A5FF" stroke="#1a1a1a" stroke-width="0.9"/>
<text x="384.30" y="247.80" font-size="8" text-anchor="middle" fill="#4d4d4d" >0.000</text>
<text x="407.60" y="247.80" font-size="8" text-anchor="middle" fill="#4d4d4d" >0.002</text>
<text x="430.90" y="247.80" font-size="8" text-anchor="middle" fill="#4d4d4d" >0.004</text>
<text x="454.20" y="247.80" font-size="8" text-anchor="middle" fill="#4d4d4d" >0.006</text>
<text x="376.30" y="11.80" font-size="16" text-anchor="start" fill="#000" font-weight="bold" >B</text>
<text x="416.70" y="256.00" font-size="8" text-anchor="middle" fill="#1a1a1a" >Heterozygosity</text>
<line x1="492.60" x2="492.60" y1="14" y2="236.5" stroke="#ebebeb" stroke-width="1"/>
<line x1="504.15" x2="504.15" y1="14" y2="236.5" stroke="#ebebeb" stroke-width="1"/>
<line x1="515.70" x2="515.70" y1="14" y2="236.5" stroke="#ebebeb" stroke-width="1"/>
<line x1="527.25" x2="527.25" y1="14" y2="236.5" stroke="#ebebeb" stroke-width="1"/>
<line x1="538.80" x2="538.80" y1="14" y2="236.5" stroke="#ebebeb" stroke-width="1"/>
<line x1="550.35" x2="550.35" y1="14" y2="236.5" stroke="#ebebeb" stroke-width="1"/>
<line x1="561.90" x2="561.90" y1="14" y2="236.5" stroke="#ebebeb" stroke-width="1"/>
<line x1="573.45" x2="573.45" y1="14" y2="236.5" stroke="#ebebeb" stroke-width="1"/>
<rect x="492.60" y="42.30" width="6.93" height="2.94" fill="#b4b4b4"/>
<rect x="492.60" y="69.54" width="6.93" height="2.94" fill="#b4b4b4"/>
<rect x="492.60" y="96.78" width="9.01" height="2.94" fill="#b4b4b4"/>
<rect x="492.60" y="124.02" width="11.09" height="2.94" fill="#b4b4b4"/>
<rect x="492.60" y="151.26" width="6.47" height="2.94" fill="#b4b4b4"/>
<rect x="492.60" y="178.50" width="6.47" height="2.94" fill="#b4b4b4"/>
<rect x="492.60" y="205.74" width="11.09" height="2.94" fill="#b4b4b4"/>
<rect x="492.60" y="18.00" width="10.74" height="24.3" fill="#FFE64C" stroke="#111" stroke-width="1.6"/>
<rect x="492.60" y="45.24" width="6.93" height="24.3" fill="#FF5A64" stroke="#111" stroke-width="1.6"/>
<rect x="492.60" y="72.48" width="9.01" height="24.3" fill="#ECACAC" stroke="#111" stroke-width="1.6"/>
<rect x="492.60" y="99.72" width="42.27" height="24.3" fill="#ADD08F" stroke="#111" stroke-width="1.6"/>
<rect x="492.60" y="126.96" width="11.09" height="24.3" fill="#63D2C2" stroke="#111" stroke-width="1.6"/>
<rect x="492.60" y="154.20" width="6.47" height="24.3" fill="#6EF27B" stroke="#111" stroke-width="1.6"/>
<rect x="492.60" y="181.44" width="11.09" height="24.3" fill="#CFC550" stroke="#111" stroke-width="1.6"/>
<rect x="492.60" y="208.68" width="31.88" height="24.3" fill="#35A5FF" stroke="#111" stroke-width="1.6"/>
<circle cx="502.70" cy="30.50" r="3.3" fill="#FFE64C" stroke="#1a1a1a" stroke-width="0.9"/>
<circle cx="502.70" cy="57.20" r="3.3" fill="#FF5A64" stroke="#1a1a1a" stroke-width="0.9"/>
<circle cx="495.70" cy="59.30" r="3.3" fill="#FF5A64" stroke="#1a1a1a" stroke-width="0.9"/>
<circle cx="504.30" cy="82.50" r="3.3" fill="#ECACAC" stroke="#1a1a1a" stroke-width="0.9"/>
<circle cx="498.40" cy="85.10" r="3.3" fill="#ECACAC" stroke="#1a1a1a" stroke-width="0.9"/>
<circle cx="497.30" cy="112.40" r="3.3" fill="#ADD08F" stroke="#1a1a1a" stroke-width="0.9"/>
<circle cx="571.00" cy="111.90" r="3.3" fill="#ADD08F" stroke="#1a1a1a" stroke-width="0.9"/>
<circle cx="493.00" cy="137.00" r="3.3" fill="#63D2C2" stroke="#1a1a1a" stroke-width="0.9"/>
<circle cx="497.00" cy="141.00" r="3.3" fill="#63D2C2" stroke="#1a1a1a" stroke-width="0.9"/>
<circle cx="500.00" cy="138.00" r="3.3" fill="#63D2C2" stroke="#1a1a1a" stroke-width="0.9"/>
<circle cx="503.00" cy="140.00" r="3.3" fill="#63D2C2" stroke="#1a1a1a" stroke-width="0.9"/>
<circle cx="505.00" cy="137.00" r="3.3" fill="#63D2C2" stroke="#1a1a1a" stroke-width="0.9"/>
<circle cx="507.00" cy="139.00" r="3.3" fill="#63D2C2" stroke="#1a1a1a" stroke-width="0.9"/>
<circle cx="509.00" cy="137.00" r="3.3" fill="#63D2C2" stroke="#1a1a1a" stroke-width="0.9"/>
<circle cx="510.50" cy="138.00" r="3.3" fill="#63D2C2" stroke="#1a1a1a" stroke-width="0.9"/>
<circle cx="508.00" cy="141.00" r="3.3" fill="#63D2C2" stroke="#1a1a1a" stroke-width="0.9"/>
<circle cx="499.00" cy="141.50" r="3.3" fill="#63D2C2" stroke="#1a1a1a" stroke-width="0.9"/>
<circle cx="495.00" cy="139.00" r="3.3" fill="#63D2C2" stroke="#1a1a1a" stroke-width="0.9"/>
<circle cx="494.40" cy="166.30" r="3.3" fill="#6EF27B" stroke="#1a1a1a" stroke-width="0.9"/>
<circle cx="496.20" cy="165.80" r="3.3" fill="#6EF27B" stroke="#1a1a1a" stroke-width="0.9"/>
<circle cx="498.00" cy="165.20" r="3.3" fill="#6EF27B" stroke="#1a1a1a" stroke-width="0.9"/>
<circle cx="501.20" cy="167.60" r="3.3" fill="#6EF27B" stroke="#1a1a1a" stroke-width="0.9"/>
<circle cx="505.60" cy="164.30" r="3.3" fill="#6EF27B" stroke="#1a1a1a" stroke-width="0.9"/>
<circle cx="496.20" cy="193.10" r="3.3" fill="#CFC550" stroke="#1a1a1a" stroke-width="0.9"/>
<circle cx="500.10" cy="191.60" r="3.3" fill="#CFC550" stroke="#1a1a1a" stroke-width="0.9"/>
<circle cx="503.80" cy="194.20" r="3.3" fill="#CFC550" stroke="#1a1a1a" stroke-width="0.9"/>
<circle cx="505.60" cy="191.30" r="3.3" fill="#CFC550" stroke="#1a1a1a" stroke-width="0.9"/>
<circle cx="519.70" cy="194.20" r="3.3" fill="#CFC550" stroke="#1a1a1a" stroke-width="0.9"/>
<circle cx="560.60" cy="195.30" r="3.3" fill="#CFC550" stroke="#1a1a1a" stroke-width="0.9"/>
<circle cx="524.50" cy="220.80" r="3.3" fill="#35A5FF" stroke="#1a1a1a" stroke-width="0.9"/>
<text x="492.60" y="247.80" font-size="8" text-anchor="middle" fill="#4d4d4d" >0.0</text>
<text x="515.70" y="247.80" font-size="8" text-anchor="middle" fill="#4d4d4d" >0.1</text>
<text x="538.80" y="247.80" font-size="8" text-anchor="middle" fill="#4d4d4d" >0.2</text>
<text x="561.90" y="247.80" font-size="8" text-anchor="middle" fill="#4d4d4d" >0.3</text>
<text x="484.80" y="11.80" font-size="16" text-anchor="start" fill="#000" font-weight="bold" >C</text>
<text x="531.60" y="256.00" font-size="8" text-anchor="middle" fill="#1a1a1a" >Fraction of the genome in</text>
<text x="531.60" y="266.20" font-size="8" text-anchor="middle" fill="#1a1a1a" >short ROH (100 kb – 1 Mb)</text>
<line x1="602.60" x2="602.60" y1="14" y2="236.5" stroke="#ebebeb" stroke-width="1"/>
<line x1="613.00" x2="613.00" y1="14" y2="236.5" stroke="#ebebeb" stroke-width="1"/>
<line x1="623.40" x2="623.40" y1="14" y2="236.5" stroke="#ebebeb" stroke-width="1"/>
<line x1="633.80" x2="633.80" y1="14" y2="236.5" stroke="#ebebeb" stroke-width="1"/>
<line x1="644.20" x2="644.20" y1="14" y2="236.5" stroke="#ebebeb" stroke-width="1"/>
<line x1="654.60" x2="654.60" y1="14" y2="236.5" stroke="#ebebeb" stroke-width="1"/>
<line x1="665.00" x2="665.00" y1="14" y2="236.5" stroke="#ebebeb" stroke-width="1"/>
<line x1="675.40" x2="675.40" y1="14" y2="236.5" stroke="#ebebeb" stroke-width="1"/>
<rect x="602.60" y="42.30" width="9.15" height="2.94" fill="#b4b4b4"/>
<rect x="602.60" y="69.54" width="5.82" height="2.94" fill="#b4b4b4"/>
<rect x="602.60" y="96.78" width="5.82" height="2.94" fill="#b4b4b4"/>
<rect x="602.60" y="124.02" width="10.61" height="2.94" fill="#b4b4b4"/>
<rect x="602.60" y="151.26" width="8.11" height="2.94" fill="#b4b4b4"/>
<rect x="602.60" y="178.50" width="8.11" height="2.94" fill="#b4b4b4"/>
<rect x="602.60" y="18.00" width="20.18" height="24.3" fill="#FFE64C" stroke="#111" stroke-width="1.6"/>
<rect x="602.60" y="45.24" width="9.15" height="24.3" fill="#FF5A64" stroke="#111" stroke-width="1.6"/>
<rect x="602.60" y="72.48" width="5.82" height="24.3" fill="#ECACAC" stroke="#111" stroke-width="1.6"/>
<rect x="602.60" y="99.72" width="12.27" height="24.3" fill="#ADD08F" stroke="#111" stroke-width="1.6"/>
<rect x="602.60" y="126.96" width="10.61" height="24.3" fill="#63D2C2" stroke="#111" stroke-width="1.6"/>
<rect x="602.60" y="154.20" width="8.11" height="24.3" fill="#6EF27B" stroke="#111" stroke-width="1.6"/>
<rect x="602.60" y="181.44" width="16.64" height="24.3" fill="#CFC550" stroke="#111" stroke-width="1.6"/>
<line x1="602.60" x2="602.60" y1="209.18" y2="232.48" stroke="#1a1a1a" stroke-width="1.3"/>
<circle cx="622.60" cy="30.10" r="3.3" fill="#FFE64C" stroke="#1a1a1a" stroke-width="0.9"/>
<circle cx="602.90" cy="55.70" r="3.3" fill="#FF5A64" stroke="#1a1a1a" stroke-width="0.9"/>
<circle cx="620.40" cy="57.20" r="3.3" fill="#FF5A64" stroke="#1a1a1a" stroke-width="0.9"/>
<circle cx="602.90" cy="83.40" r="3.3" fill="#ECACAC" stroke="#1a1a1a" stroke-width="0.9"/>
<circle cx="613.80" cy="86.90" r="3.3" fill="#ECACAC" stroke="#1a1a1a" stroke-width="0.9"/>
<circle cx="602.90" cy="112.90" r="3.3" fill="#ADD08F" stroke="#1a1a1a" stroke-width="0.9"/>
<circle cx="626.90" cy="114.20" r="3.3" fill="#ADD08F" stroke="#1a1a1a" stroke-width="0.9"/>
<circle cx="602.00" cy="138.00" r="3.3" fill="#63D2C2" stroke="#1a1a1a" stroke-width="0.9"/>
<circle cx="604.00" cy="141.00" r="3.3" fill="#63D2C2" stroke="#1a1a1a" stroke-width="0.9"/>
<circle cx="606.00" cy="137.00" r="3.3" fill="#63D2C2" stroke="#1a1a1a" stroke-width="0.9"/>
<circle cx="609.00" cy="140.00" r="3.3" fill="#63D2C2" stroke="#1a1a1a" stroke-width="0.9"/>
<circle cx="611.00" cy="137.50" r="3.3" fill="#63D2C2" stroke="#1a1a1a" stroke-width="0.9"/>
<circle cx="614.00" cy="139.00" r="3.3" fill="#63D2C2" stroke="#1a1a1a" stroke-width="0.9"/>
<circle cx="617.00" cy="141.00" r="3.3" fill="#63D2C2" stroke="#1a1a1a" stroke-width="0.9"/>
<circle cx="619.00" cy="137.00" r="3.3" fill="#63D2C2" stroke="#1a1a1a" stroke-width="0.9"/>
<circle cx="621.00" cy="139.00" r="3.3" fill="#63D2C2" stroke="#1a1a1a" stroke-width="0.9"/>
<circle cx="623.00" cy="137.50" r="3.3" fill="#63D2C2" stroke="#1a1a1a" stroke-width="0.9"/>
<circle cx="625.00" cy="140.00" r="3.3" fill="#63D2C2" stroke="#1a1a1a" stroke-width="0.9"/>
<circle cx="627.00" cy="141.00" r="3.3" fill="#63D2C2" stroke="#1a1a1a" stroke-width="0.9"/>
<circle cx="680.90" cy="140.10" r="3.3" fill="#63D2C2" stroke="#1a1a1a" stroke-width="0.9"/>
<circle cx="602.90" cy="166.30" r="3.3" fill="#6EF27B" stroke="#1a1a1a" stroke-width="0.9"/>
<circle cx="608.40" cy="168.00" r="3.3" fill="#6EF27B" stroke="#1a1a1a" stroke-width="0.9"/>
<circle cx="610.60" cy="165.40" r="3.3" fill="#6EF27B" stroke="#1a1a1a" stroke-width="0.9"/>
<circle cx="612.70" cy="165.80" r="3.3" fill="#6EF27B" stroke="#1a1a1a" stroke-width="0.9"/>
<circle cx="616.00" cy="166.30" r="3.3" fill="#6EF27B" stroke="#1a1a1a" stroke-width="0.9"/>
<circle cx="621.50" cy="168.50" r="3.3" fill="#6EF27B" stroke="#1a1a1a" stroke-width="0.9"/>
<circle cx="602.90" cy="194.20" r="3.3" fill="#CFC550" stroke="#1a1a1a" stroke-width="0.9"/>
<circle cx="605.10" cy="194.70" r="3.3" fill="#CFC550" stroke="#1a1a1a" stroke-width="0.9"/>
<circle cx="620.00" cy="191.60" r="3.3" fill="#CFC550" stroke="#1a1a1a" stroke-width="0.9"/>
<circle cx="628.00" cy="193.80" r="3.3" fill="#CFC550" stroke="#1a1a1a" stroke-width="0.9"/>
<circle cx="602.90" cy="220.80" r="3.3" fill="#35A5FF" stroke="#1a1a1a" stroke-width="0.9"/>
<text x="602.60" y="247.80" font-size="8" text-anchor="middle" fill="#4d4d4d" >0.00</text>
<text x="623.40" y="247.80" font-size="8" text-anchor="middle" fill="#4d4d4d" >0.01</text>
<text x="644.20" y="247.80" font-size="8" text-anchor="middle" fill="#4d4d4d" >0.02</text>
<text x="665.00" y="247.80" font-size="8" text-anchor="middle" fill="#4d4d4d" >0.03</text>
<text x="597.50" y="11.80" font-size="16" text-anchor="start" fill="#000" font-weight="bold" >D</text>
<text x="632.80" y="256.00" font-size="8" text-anchor="middle" fill="#1a1a1a" >Fraction of the genome in</text>
<text x="632.80" y="266.20" font-size="8" text-anchor="middle" fill="#1a1a1a" >long ROH (&gt;1 Mb)</text>
<text x="376.00" y="32.95" font-size="8" text-anchor="end" fill="#4d4d4d" font-style="italic" >C. lomamiensis</text>
<text x="376.00" y="60.19" font-size="8" text-anchor="end" fill="#4d4d4d" font-style="italic" >C. hamlyni</text>
<text x="376" y="87.43" font-size="8" text-anchor="end" fill="#4d4d4d"><tspan font-style="italic">diana</tspan> spp.</text>
<text x="376.00" y="114.67" font-size="8" text-anchor="end" fill="#4d4d4d" font-style="italic" >C. neglectus</text>
<text x="376" y="141.91" font-size="8" text-anchor="end" fill="#4d4d4d"><tspan font-style="italic">mona</tspan> spp.</text>
<text x="376" y="169.15" font-size="8" text-anchor="end" fill="#4d4d4d"><tspan font-style="italic">cephus</tspan> spp.</text>
<text x="376" y="196.39" font-size="8" text-anchor="end" fill="#4d4d4d"><tspan font-style="italic">mitis</tspan> spp.</text>
<text x="376.00" y="223.63" font-size="8" text-anchor="end" fill="#4d4d4d" font-style="italic" >M. ogouensis</text>
<text transform="translate(317,125.6) rotate(-90)" font-size="9.75" text-anchor="middle" fill="#000">Group/Species</text>
<rect x="56.5" y="283.5" width="232.0" height="247.0" fill="#fff"/>
<line x1="56.5" x2="288.5" y1="321.74" y2="321.74" stroke="#ebebeb" stroke-width="0.9"/>
<line x1="56.5" x2="288.5" y1="380.62" y2="380.62" stroke="#ebebeb" stroke-width="0.9"/>
<line x1="56.5" x2="288.5" y1="439.50" y2="439.50" stroke="#ebebeb" stroke-width="0.9"/>
<line x1="56.5" x2="288.5" y1="498.38" y2="498.38" stroke="#ebebeb" stroke-width="0.9"/>
<line x1="56.5" x2="288.5" y1="292.30" y2="292.30" stroke="#ebebeb" stroke-width="1.2"/>
<line x1="56.5" x2="288.5" y1="351.18" y2="351.18" stroke="#ebebeb" stroke-width="1.2"/>
<line x1="56.5" x2="288.5" y1="410.06" y2="410.06" stroke="#ebebeb" stroke-width="1.2"/>
<line x1="56.5" x2="288.5" y1="468.94" y2="468.94" stroke="#ebebeb" stroke-width="1.2"/>
<line x1="56.5" x2="288.5" y1="527.82" y2="527.82" stroke="#ebebeb" stroke-width="1.2"/>
<line x1="73.00" x2="73.00" y1="283.5" y2="530.5" stroke="#ebebeb" stroke-width="1.2"/>
<line x1="101.25" x2="101.25" y1="283.5" y2="530.5" stroke="#ebebeb" stroke-width="1.2"/>
<line x1="129.50" x2="129.50" y1="283.5" y2="530.5" stroke="#ebebeb" stroke-width="1.2"/>
<line x1="157.75" x2="157.75" y1="283.5" y2="530.5" stroke="#ebebeb" stroke-width="1.2"/>
<line x1="186.00" x2="186.00" y1="283.5" y2="530.5" stroke="#ebebeb" stroke-width="1.2"/>
<line x1="214.25" x2="214.25" y1="283.5" y2="530.5" stroke="#ebebeb" stroke-width="1.2"/>
<line x1="242.50" x2="242.50" y1="283.5" y2="530.5" stroke="#ebebeb" stroke-width="1.2"/>
<line x1="270.75" x2="270.75" y1="283.5" y2="530.5" stroke="#ebebeb" stroke-width="1.2"/>
<rect x="61.80" y="456.43" width="22.40" height="0.01" fill="#FFE64C" stroke="#333" stroke-width="1.1"/>
<line x1="61.80" x2="84.20" y1="456.43" y2="456.43" stroke="#333" stroke-width="2.2"/>
<circle cx="73.00" cy="456.60" r="5.75" fill="#111"/>
<circle cx="73.00" cy="456.60" r="4.65" fill="#FFE64C"/>
<rect x="90.05" y="470.41" width="22.40" height="7.36" fill="#FF5A64" stroke="#333" stroke-width="1.1"/>
<line x1="90.05" x2="112.45" y1="474.09" y2="474.09" stroke="#333" stroke-width="2.2"/>
<circle cx="98.40" cy="465.00" r="5.75" fill="#111"/>
<circle cx="99.70" cy="482.00" r="5.75" fill="#111"/>
<circle cx="98.40" cy="465.00" r="4.65" fill="#FF5A64"/>
<circle cx="99.70" cy="482.00" r="4.65" fill="#FF5A64"/>
<rect x="118.30" y="472.62" width="22.40" height="0.01" fill="#ECACAC" stroke="#333" stroke-width="1.1"/>
<line x1="118.30" x2="140.70" y1="472.62" y2="472.62" stroke="#333" stroke-width="2.2"/>
<circle cx="126.80" cy="468.00" r="5.75" fill="#111"/>
<circle cx="128.60" cy="472.90" r="5.75" fill="#111"/>
<circle cx="126.80" cy="468.00" r="4.65" fill="#ECACAC"/>
<circle cx="128.60" cy="472.90" r="4.65" fill="#ECACAC"/>
<rect x="146.55" y="462.61" width="22.40" height="3.83" fill="#333" stroke="#333" stroke-width="1.1"/>
<line x1="146.55" x2="168.95" y1="464.52" y2="464.52" stroke="#333" stroke-width="2.2"/>
<circle cx="158.70" cy="460.10" r="5.75" fill="#111"/>
<circle cx="157.00" cy="468.00" r="5.75" fill="#111"/>
<circle cx="158.70" cy="460.10" r="4.65" fill="#ADD08F"/>
<circle cx="157.00" cy="468.00" r="4.65" fill="#ADD08F"/>
<line x1="186.00" x2="186.00" y1="461.58" y2="498.38" stroke="#333" stroke-width="1.1"/>
<rect x="174.80" y="468.94" width="22.40" height="14.72" fill="#63D2C2" stroke="#333" stroke-width="1.1"/>
<line x1="174.80" x2="197.20" y1="476.30" y2="476.30" stroke="#333" stroke-width="2.2"/>
<circle cx="185.10" cy="408.20" r="5.75" fill="#111"/>
<circle cx="189.10" cy="410.60" r="5.75" fill="#111"/>
<circle cx="187.10" cy="464.50" r="5.75" fill="#111"/>
<circle cx="189.50" cy="467.50" r="5.75" fill="#111"/>
<circle cx="187.10" cy="470.50" r="5.75" fill="#111"/>
<circle cx="189.50" cy="473.50" r="5.75" fill="#111"/>
<circle cx="187.10" cy="476.50" r="5.75" fill="#111"/>
<circle cx="189.50" cy="479.50" r="5.75" fill="#111"/>
<circle cx="187.10" cy="482.50" r="5.75" fill="#111"/>
<circle cx="189.50" cy="485.50" r="5.75" fill="#111"/>
<circle cx="187.10" cy="488.50" r="5.75" fill="#111"/>
<circle cx="189.50" cy="491.50" r="5.75" fill="#111"/>
<circle cx="187.10" cy="494.50" r="5.75" fill="#111"/>
<circle cx="187.50" cy="519.50" r="5.75" fill="#111"/>
<circle cx="185.10" cy="408.20" r="4.65" fill="#63D2C2"/>
<circle cx="189.10" cy="410.60" r="4.65" fill="#63D2C2"/>
<circle cx="187.10" cy="464.50" r="4.65" fill="#63D2C2"/>
<circle cx="189.50" cy="467.50" r="4.65" fill="#63D2C2"/>
<circle cx="187.10" cy="470.50" r="4.65" fill="#63D2C2"/>
<circle cx="189.50" cy="473.50" r="4.65" fill="#63D2C2"/>
<circle cx="187.10" cy="476.50" r="4.65" fill="#63D2C2"/>
<circle cx="189.50" cy="479.50" r="4.65" fill="#63D2C2"/>
<circle cx="187.10" cy="482.50" r="4.65" fill="#63D2C2"/>
<circle cx="189.50" cy="485.50" r="4.65" fill="#63D2C2"/>
<circle cx="187.10" cy="488.50" r="4.65" fill="#63D2C2"/>
<circle cx="189.50" cy="491.50" r="4.65" fill="#63D2C2"/>
<circle cx="187.10" cy="494.50" r="4.65" fill="#63D2C2"/>
<circle cx="187.50" cy="519.50" r="4.65" fill="#63D2C2"/>
<rect x="203.05" y="446.86" width="22.40" height="26.50" fill="#6EF27B" stroke="#333" stroke-width="1.1"/>
<line x1="203.05" x2="225.45" y1="470.41" y2="470.41" stroke="#333" stroke-width="2.2"/>
<circle cx="213.90" cy="294.50" r="5.75" fill="#111"/>
<circle cx="213.90" cy="400.50" r="5.75" fill="#111"/>
<circle cx="217.10" cy="461.30" r="5.75" fill="#111"/>
<circle cx="215.10" cy="471.10" r="5.75" fill="#111"/>
<circle cx="218.20" cy="474.90" r="5.75" fill="#111"/>
<circle cx="212.10" cy="483.20" r="5.75" fill="#111"/>
<circle cx="213.90" cy="294.50" r="4.65" fill="#6EF27B"/>
<circle cx="213.90" cy="400.50" r="4.65" fill="#6EF27B"/>
<circle cx="217.10" cy="461.30" r="4.65" fill="#6EF27B"/>
<circle cx="215.10" cy="471.10" r="4.65" fill="#6EF27B"/>
<circle cx="218.20" cy="474.90" r="4.65" fill="#6EF27B"/>
<circle cx="212.10" cy="483.20" r="4.65" fill="#6EF27B"/>
<line x1="242.50" x2="242.50" y1="396.81" y2="486.60" stroke="#333" stroke-width="1.1"/>
<rect x="231.30" y="420.36" width="22.40" height="51.52" fill="#CFC550" stroke="#333" stroke-width="1.1"/>
<line x1="231.30" x2="253.70" y1="456.43" y2="456.43" stroke="#333" stroke-width="2.2"/>
<circle cx="241.50" cy="396.50" r="5.75" fill="#111"/>
<circle cx="246.10" cy="398.10" r="5.75" fill="#111"/>
<circle cx="244.10" cy="442.80" r="5.75" fill="#111"/>
<circle cx="240.90" cy="456.10" r="5.75" fill="#111"/>
<circle cx="244.10" cy="468.60" r="5.75" fill="#111"/>
<circle cx="244.90" cy="472.60" r="5.75" fill="#111"/>
<circle cx="242.80" cy="487.80" r="5.75" fill="#111"/>
<circle cx="241.50" cy="396.50" r="4.65" fill="#CFC550"/>
<circle cx="246.10" cy="398.10" r="4.65" fill="#CFC550"/>
<circle cx="244.10" cy="442.80" r="4.65" fill="#CFC550"/>
<circle cx="240.90" cy="456.10" r="4.65" fill="#CFC550"/>
<circle cx="244.10" cy="468.60" r="4.65" fill="#CFC550"/>
<circle cx="244.90" cy="472.60" r="4.65" fill="#CFC550"/>
<circle cx="242.80" cy="487.80" r="4.65" fill="#CFC550"/>
<rect x="259.55" y="452.01" width="22.40" height="0.01" fill="#35A5FF" stroke="#333" stroke-width="1.1"/>
<line x1="259.55" x2="281.95" y1="452.01" y2="452.01" stroke="#333" stroke-width="2.2"/>
<circle cx="271.10" cy="451.90" r="5.75" fill="#111"/>
<circle cx="271.10" cy="451.90" r="4.65" fill="#35A5FF"/>
<rect x="56.5" y="283.5" width="232.0" height="247.0" fill="none" stroke="#333" stroke-width="1.1"/>
<line x1="52.9" x2="56.5" y1="292.30" y2="292.30" stroke="#333" stroke-width="1.1"/>
<text x="49.20" y="296.60" font-size="12" text-anchor="end" fill="#4d4d4d" >5.2</text>
<line x1="52.9" x2="56.5" y1="351.18" y2="351.18" stroke="#333" stroke-width="1.1"/>
<text x="49.20" y="355.48" font-size="12" text-anchor="end" fill="#4d4d4d" >4.8</text>
<line x1="52.9" x2="56.5" y1="410.06" y2="410.06" stroke="#333" stroke-width="1.1"/>
<text x="49.20" y="414.36" font-size="12" text-anchor="end" fill="#4d4d4d" >4.4</text>
<line x1="52.9" x2="56.5" y1="468.94" y2="468.94" stroke="#333" stroke-width="1.1"/>
<text x="49.20" y="473.24" font-size="12" text-anchor="end" fill="#4d4d4d" >4.0</text>
<line x1="52.9" x2="56.5" y1="527.82" y2="527.82" stroke="#333" stroke-width="1.1"/>
<text x="49.20" y="532.12" font-size="12" text-anchor="end" fill="#4d4d4d" >3.6</text>
<line x1="73.00" x2="73.00" y1="530.5" y2="534.1" stroke="#333" stroke-width="1.1"/>
<text transform="translate(87.50,544.50) rotate(-45)" font-size="10.8" text-anchor="end" fill="#1a1a1a" font-style="italic">C. lomamiensis</text>
<line x1="101.25" x2="101.25" y1="530.5" y2="534.1" stroke="#333" stroke-width="1.1"/>
<text transform="translate(115.75,544.50) rotate(-45)" font-size="10.8" text-anchor="end" fill="#1a1a1a" font-style="italic">C. hamlyni</text>
<line x1="129.50" x2="129.50" y1="530.5" y2="534.1" stroke="#333" stroke-width="1.1"/>
<text transform="translate(144.00,544.50) rotate(-45)" font-size="10.8" text-anchor="end" fill="#1a1a1a"><tspan font-style="italic">diana</tspan> spp.</text>
<line x1="157.75" x2="157.75" y1="530.5" y2="534.1" stroke="#333" stroke-width="1.1"/>
<text transform="translate(172.25,544.50) rotate(-45)" font-size="10.8" text-anchor="end" fill="#1a1a1a" font-style="italic">C. neglectus</text>
<line x1="186.00" x2="186.00" y1="530.5" y2="534.1" stroke="#333" stroke-width="1.1"/>
<text transform="translate(200.50,544.50) rotate(-45)" font-size="10.8" text-anchor="end" fill="#1a1a1a"><tspan font-style="italic">mona</tspan> spp.</text>
<line x1="214.25" x2="214.25" y1="530.5" y2="534.1" stroke="#333" stroke-width="1.1"/>
<text transform="translate(228.75,544.50) rotate(-45)" font-size="10.8" text-anchor="end" fill="#1a1a1a"><tspan font-style="italic">cephus</tspan> spp.</text>
<line x1="242.50" x2="242.50" y1="530.5" y2="534.1" stroke="#333" stroke-width="1.1"/>
<text transform="translate(257.00,544.50) rotate(-45)" font-size="10.8" text-anchor="end" fill="#1a1a1a"><tspan font-style="italic">mitis</tspan> spp.</text>
<line x1="270.75" x2="270.75" y1="530.5" y2="534.1" stroke="#333" stroke-width="1.1"/>
<text transform="translate(285.25,544.50) rotate(-45)" font-size="10.8" text-anchor="end" fill="#1a1a1a" font-style="italic">M. ogouensis</text>
<text x="0.60" y="268.80" font-size="16" text-anchor="start" fill="#000" font-weight="bold" >E</text>
<text x="29.3" y="275.6" font-size="11" fill="#1a1a1a">x 10<tspan font-size="6.5" dy="-4.3">4</tspan></text>
<text transform="translate(24.9,405.60) rotate(-90)" font-size="12.45" text-anchor="middle" fill="#000">Moderate / Synonymous alleles</text>
<rect x="429.5" y="283.5" width="232.5" height="247.0" fill="#fff"/>
<line x1="429.5" x2="662" y1="288.65" y2="288.65" stroke="#ebebeb" stroke-width="0.9"/>
<line x1="429.5" x2="662" y1="329.75" y2="329.75" stroke="#ebebeb" stroke-width="0.9"/>
<line x1="429.5" x2="662" y1="370.85" y2="370.85" stroke="#ebebeb" stroke-width="0.9"/>
<line x1="429.5" x2="662" y1="411.95" y2="411.95" stroke="#ebebeb" stroke-width="0.9"/>
<line x1="429.5" x2="662" y1="453.05" y2="453.05" stroke="#ebebeb" stroke-width="0.9"/>
<line x1="429.5" x2="662" y1="494.15" y2="494.15" stroke="#ebebeb" stroke-width="0.9"/>
<line x1="429.5" x2="662" y1="309.20" y2="309.20" stroke="#ebebeb" stroke-width="1.2"/>
<line x1="429.5" x2="662" y1="350.30" y2="350.30" stroke="#ebebeb" stroke-width="1.2"/>
<line x1="429.5" x2="662" y1="391.40" y2="391.40" stroke="#ebebeb" stroke-width="1.2"/>
<line x1="429.5" x2="662" y1="432.50" y2="432.50" stroke="#ebebeb" stroke-width="1.2"/>
<line x1="429.5" x2="662" y1="473.60" y2="473.60" stroke="#ebebeb" stroke-width="1.2"/>
<line x1="429.5" x2="662" y1="514.70" y2="514.70" stroke="#ebebeb" stroke-width="1.2"/>
<line x1="446.40" x2="446.40" y1="283.5" y2="530.5" stroke="#ebebeb" stroke-width="1.2"/>
<line x1="474.77" x2="474.77" y1="283.5" y2="530.5" stroke="#ebebeb" stroke-width="1.2"/>
<line x1="503.14" x2="503.14" y1="283.5" y2="530.5" stroke="#ebebeb" stroke-width="1.2"/>
<line x1="531.51" x2="531.51" y1="283.5" y2="530.5" stroke="#ebebeb" stroke-width="1.2"/>
<line x1="559.88" x2="559.88" y1="283.5" y2="530.5" stroke="#ebebeb" stroke-width="1.2"/>
<line x1="588.25" x2="588.25" y1="283.5" y2="530.5" stroke="#ebebeb" stroke-width="1.2"/>
<line x1="616.62" x2="616.62" y1="283.5" y2="530.5" stroke="#ebebeb" stroke-width="1.2"/>
<line x1="644.99" x2="644.99" y1="283.5" y2="530.5" stroke="#ebebeb" stroke-width="1.2"/>
<rect x="435.20" y="468.05" width="22.40" height="0.01" fill="#FFE64C" stroke="#333" stroke-width="1.1"/>
<line x1="435.20" x2="457.60" y1="468.05" y2="468.05" stroke="#333" stroke-width="2.2"/>
<circle cx="446.40" cy="468.00" r="5.75" fill="#111"/>
<circle cx="446.40" cy="468.00" r="4.65" fill="#FFE64C"/>
<rect x="463.57" y="467.43" width="22.40" height="8.22" fill="#FF5A64" stroke="#333" stroke-width="1.1"/>
<line x1="463.57" x2="485.97" y1="472.57" y2="472.57" stroke="#333" stroke-width="2.2"/>
<circle cx="472.00" cy="464.50" r="5.75" fill="#111"/>
<circle cx="472.30" cy="481.20" r="5.75" fill="#111"/>
<circle cx="472.00" cy="464.50" r="4.65" fill="#FF5A64"/>
<circle cx="472.30" cy="481.20" r="4.65" fill="#FF5A64"/>
<rect x="491.94" y="477.09" width="22.40" height="3.49" fill="#333" stroke="#333" stroke-width="1.1"/>
<line x1="491.94" x2="514.34" y1="478.53" y2="478.53" stroke="#333" stroke-width="2.2"/>
<circle cx="501.20" cy="475.00" r="5.75" fill="#111"/>
<circle cx="500.70" cy="482.00" r="5.75" fill="#111"/>
<circle cx="501.20" cy="475.00" r="4.65" fill="#ECACAC"/>
<circle cx="500.70" cy="482.00" r="4.65" fill="#ECACAC"/>
<rect x="520.31" y="476.48" width="22.40" height="0.01" fill="#ADD08F" stroke="#333" stroke-width="1.1"/>
<line x1="520.31" x2="542.71" y1="476.48" y2="476.48" stroke="#333" stroke-width="2.2"/>
<circle cx="532.20" cy="475.00" r="5.75" fill="#111"/>
<circle cx="530.10" cy="478.20" r="5.75" fill="#111"/>
<circle cx="532.20" cy="475.00" r="4.65" fill="#ADD08F"/>
<circle cx="530.10" cy="478.20" r="4.65" fill="#ADD08F"/>
<rect x="548.68" y="471.54" width="22.40" height="12.33" fill="#63D2C2" stroke="#333" stroke-width="1.1"/>
<line x1="548.68" x2="571.08" y1="477.71" y2="477.71" stroke="#333" stroke-width="2.2"/>
<circle cx="563.10" cy="428.30" r="5.75" fill="#111"/>
<circle cx="558.80" cy="434.80" r="5.75" fill="#111"/>
<circle cx="560.50" cy="465.50" r="5.75" fill="#111"/>
<circle cx="562.50" cy="468.30" r="5.75" fill="#111"/>
<circle cx="560.50" cy="471.10" r="5.75" fill="#111"/>
<circle cx="562.50" cy="473.90" r="5.75" fill="#111"/>
<circle cx="560.50" cy="476.70" r="5.75" fill="#111"/>
<circle cx="562.50" cy="479.50" r="5.75" fill="#111"/>
<circle cx="560.50" cy="482.30" r="5.75" fill="#111"/>
<circle cx="562.50" cy="485.10" r="5.75" fill="#111"/>
<circle cx="560.80" cy="518.30" r="5.75" fill="#111"/>
<circle cx="563.10" cy="428.30" r="4.65" fill="#63D2C2"/>
<circle cx="558.80" cy="434.80" r="4.65" fill="#63D2C2"/>
<circle cx="560.50" cy="465.50" r="4.65" fill="#63D2C2"/>
<circle cx="562.50" cy="468.30" r="4.65" fill="#63D2C2"/>
<circle cx="560.50" cy="471.10" r="4.65" fill="#63D2C2"/>
<circle cx="562.50" cy="473.90" r="4.65" fill="#63D2C2"/>
<circle cx="560.50" cy="476.70" r="4.65" fill="#63D2C2"/>
<circle cx="562.50" cy="479.50" r="4.65" fill="#63D2C2"/>
<circle cx="560.50" cy="482.30" r="4.65" fill="#63D2C2"/>
<circle cx="562.50" cy="485.10" r="4.65" fill="#63D2C2"/>
<circle cx="560.80" cy="518.30" r="4.65" fill="#63D2C2"/>
<line x1="588.25" x2="588.25" y1="388.11" y2="473.60" stroke="#333" stroke-width="1.1"/>
<rect x="577.05" y="427.98" width="22.40" height="34.11" fill="#6EF27B" stroke="#333" stroke-width="1.1"/>
<line x1="577.05" x2="599.45" y1="452.64" y2="452.64" stroke="#333" stroke-width="2.2"/>
<circle cx="587.80" cy="294.30" r="5.75" fill="#111"/>
<circle cx="587.80" cy="388.80" r="5.75" fill="#111"/>
<circle cx="587.30" cy="440.90" r="5.75" fill="#111"/>
<circle cx="591.50" cy="449.20" r="5.75" fill="#111"/>
<circle cx="589.80" cy="455.50" r="5.75" fill="#111"/>
<circle cx="590.80" cy="460.00" r="5.75" fill="#111"/>
<circle cx="585.20" cy="471.00" r="5.75" fill="#111"/>
<circle cx="591.50" cy="475.10" r="5.75" fill="#111"/>
<circle cx="587.80" cy="294.30" r="4.65" fill="#6EF27B"/>
<circle cx="587.80" cy="388.80" r="4.65" fill="#6EF27B"/>
<circle cx="587.30" cy="440.90" r="4.65" fill="#6EF27B"/>
<circle cx="591.50" cy="449.20" r="4.65" fill="#6EF27B"/>
<circle cx="589.80" cy="455.50" r="4.65" fill="#6EF27B"/>
<circle cx="590.80" cy="460.00" r="4.65" fill="#6EF27B"/>
<circle cx="585.20" cy="471.00" r="4.65" fill="#6EF27B"/>
<circle cx="591.50" cy="475.10" r="4.65" fill="#6EF27B"/>
<line x1="616.62" x2="616.62" y1="395.51" y2="473.60" stroke="#333" stroke-width="1.1"/>
<rect x="605.42" y="434.14" width="22.40" height="34.36" fill="#CFC550" stroke="#333" stroke-width="1.1"/>
<line x1="605.42" x2="627.82" y1="460.00" y2="460.00" stroke="#333" stroke-width="2.2"/>
<circle cx="619.20" cy="396.30" r="5.75" fill="#111"/>
<circle cx="615.40" cy="418.20" r="5.75" fill="#111"/>
<circle cx="617.40" cy="450.40" r="5.75" fill="#111"/>
<circle cx="617.90" cy="460.00" r="5.75" fill="#111"/>
<circle cx="616.70" cy="466.80" r="5.75" fill="#111"/>
<circle cx="615.40" cy="469.30" r="5.75" fill="#111"/>
<circle cx="619.20" cy="396.30" r="4.65" fill="#CFC550"/>
<circle cx="615.40" cy="418.20" r="4.65" fill="#CFC550"/>
<circle cx="617.40" cy="450.40" r="4.65" fill="#CFC550"/>
<circle cx="617.90" cy="460.00" r="4.65" fill="#CFC550"/>
<circle cx="616.70" cy="466.80" r="4.65" fill="#CFC550"/>
<circle cx="615.40" cy="469.30" r="4.65" fill="#CFC550"/>
<rect x="633.79" y="470.31" width="22.40" height="0.01" fill="#35A5FF" stroke="#333" stroke-width="1.1"/>
<line x1="633.79" x2="656.19" y1="470.31" y2="470.31" stroke="#333" stroke-width="2.2"/>
<circle cx="644.80" cy="469.80" r="5.75" fill="#111"/>
<circle cx="644.80" cy="469.80" r="4.65" fill="#35A5FF"/>
<rect x="429.5" y="283.5" width="232.5" height="247.0" fill="none" stroke="#333" stroke-width="1.1"/>
<line x1="425.9" x2="429.5" y1="309.20" y2="309.20" stroke="#333" stroke-width="1.1"/>
<text x="422.20" y="313.50" font-size="12" text-anchor="end" fill="#4d4d4d" >1.6</text>
<line x1="425.9" x2="429.5" y1="350.30" y2="350.30" stroke="#333" stroke-width="1.1"/>
<text x="422.20" y="354.60" font-size="12" text-anchor="end" fill="#4d4d4d" >1.5</text>
<line x1="425.9" x2="429.5" y1="391.40" y2="391.40" stroke="#333" stroke-width="1.1"/>
<text x="422.20" y="395.70" font-size="12" text-anchor="end" fill="#4d4d4d" >1.4</text>
<line x1="425.9" x2="429.5" y1="432.50" y2="432.50" stroke="#333" stroke-width="1.1"/>
<text x="422.20" y="436.80" font-size="12" text-anchor="end" fill="#4d4d4d" >1.3</text>
<line x1="425.9" x2="429.5" y1="473.60" y2="473.60" stroke="#333" stroke-width="1.1"/>
<text x="422.20" y="477.90" font-size="12" text-anchor="end" fill="#4d4d4d" >1.2</text>
<line x1="425.9" x2="429.5" y1="514.70" y2="514.70" stroke="#333" stroke-width="1.1"/>
<text x="422.20" y="519.00" font-size="12" text-anchor="end" fill="#4d4d4d" >1.1</text>
<line x1="446.40" x2="446.40" y1="530.5" y2="534.1" stroke="#333" stroke-width="1.1"/>
<text transform="translate(460.90,544.50) rotate(-45)" font-size="10.8" text-anchor="end" fill="#1a1a1a" font-style="italic">C. lomamiensis</text>
<line x1="474.77" x2="474.77" y1="530.5" y2="534.1" stroke="#333" stroke-width="1.1"/>
<text transform="translate(489.27,544.50) rotate(-45)" font-size="10.8" text-anchor="end" fill="#1a1a1a" font-style="italic">C. hamlyni</text>
<line x1="503.14" x2="503.14" y1="530.5" y2="534.1" stroke="#333" stroke-width="1.1"/>
<text transform="translate(517.64,544.50) rotate(-45)" font-size="10.8" text-anchor="end" fill="#1a1a1a"><tspan font-style="italic">diana</tspan> spp.</text>
<line x1="531.51" x2="531.51" y1="530.5" y2="534.1" stroke="#333" stroke-width="1.1"/>
<text transform="translate(546.01,544.50) rotate(-45)" font-size="10.8" text-anchor="end" fill="#1a1a1a" font-style="italic">C. neglectus</text>
<line x1="559.88" x2="559.88" y1="530.5" y2="534.1" stroke="#333" stroke-width="1.1"/>
<text transform="translate(574.38,544.50) rotate(-45)" font-size="10.8" text-anchor="end" fill="#1a1a1a"><tspan font-style="italic">mona</tspan> spp.</text>
<line x1="588.25" x2="588.25" y1="530.5" y2="534.1" stroke="#333" stroke-width="1.1"/>
<text transform="translate(602.75,544.50) rotate(-45)" font-size="10.8" text-anchor="end" fill="#1a1a1a"><tspan font-style="italic">cephus</tspan> spp.</text>
<line x1="616.62" x2="616.62" y1="530.5" y2="534.1" stroke="#333" stroke-width="1.1"/>
<text transform="translate(631.12,544.50) rotate(-45)" font-size="10.8" text-anchor="end" fill="#1a1a1a"><tspan font-style="italic">mitis</tspan> spp.</text>
<line x1="644.99" x2="644.99" y1="530.5" y2="534.1" stroke="#333" stroke-width="1.1"/>
<text transform="translate(659.49,544.50) rotate(-45)" font-size="10.8" text-anchor="end" fill="#1a1a1a" font-style="italic">M. ogouensis</text>
<text x="344.20" y="268.80" font-size="16" text-anchor="start" fill="#000" font-weight="bold" >F</text>
<text x="409.6" y="275.6" font-size="11" fill="#1a1a1a">x 10<tspan font-size="6.5" dy="-4.3">5</tspan></text>
<text transform="translate(396.1,410.70) rotate(-90)" font-size="12.45" text-anchor="middle" fill="#000">High Impact / Synonymous alleles</text>
</svg>
</body></html>
